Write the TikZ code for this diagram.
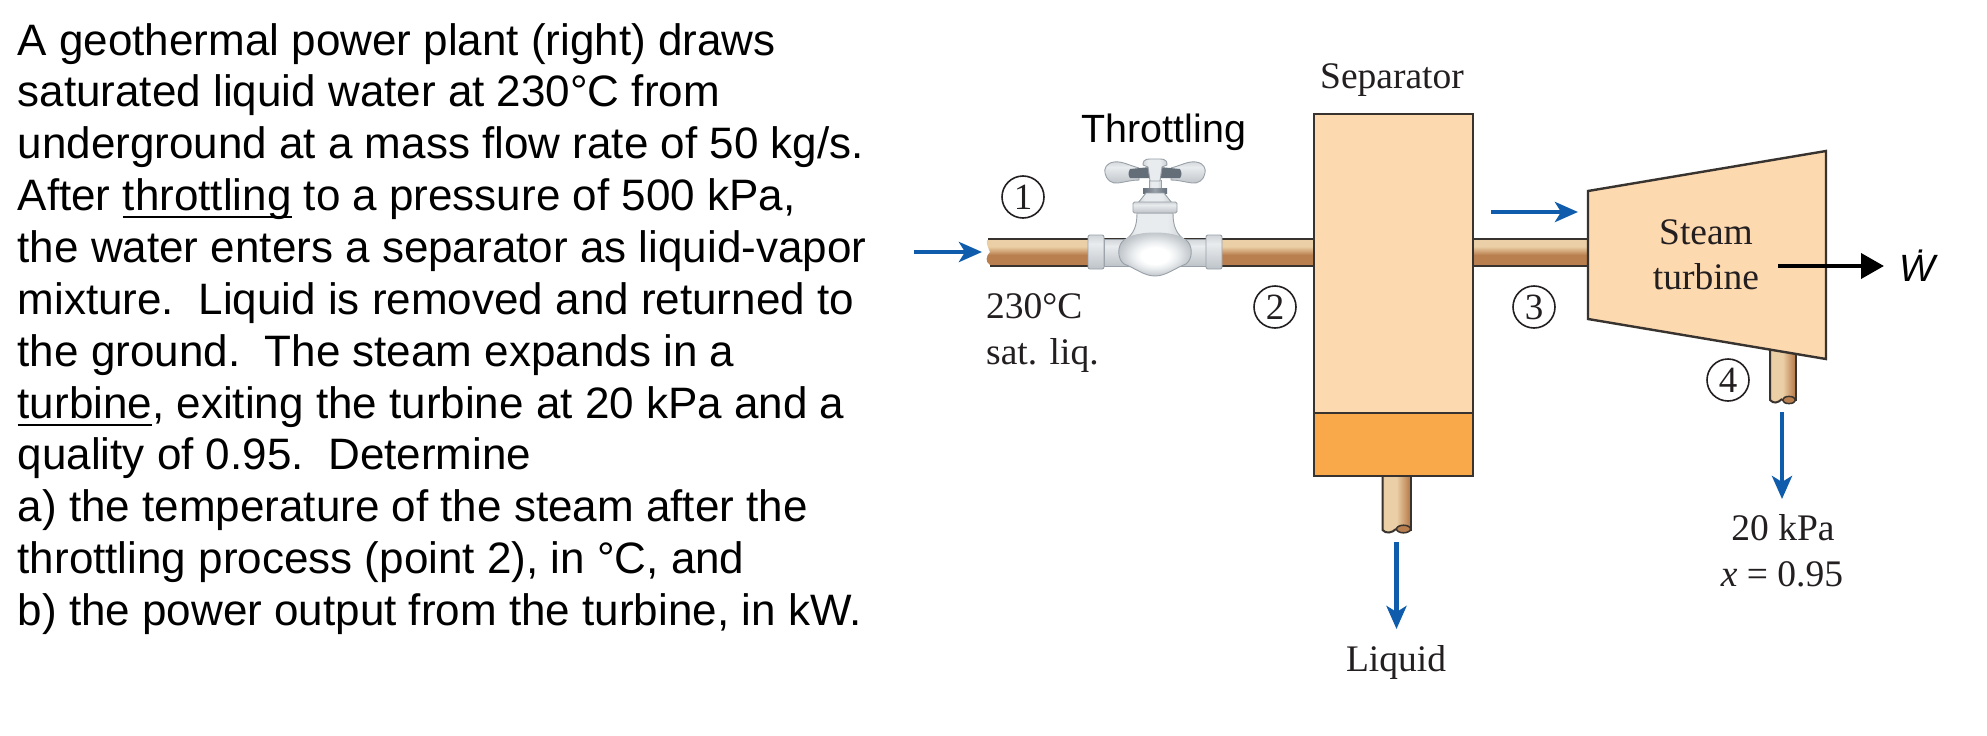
\documentclass[tikz,border=0pt]{standalone}
\usepackage{fontspec}
\setmainfont{Liberation Serif}
\newfontfamily\arialf{Liberation Sans}
\usetikzlibrary{arrows.meta}
\definecolor{peach}{HTML}{FDD9B0}
\definecolor{orng}{HTML}{F9A84A}
\definecolor{edgec}{HTML}{38332E}
\definecolor{flow}{HTML}{0F5CAD}
\definecolor{inkc}{HTML}{231F20}
\definecolor{steelL}{HTML}{E9ECEE}
\definecolor{steelM}{HTML}{C4C9CE}
\definecolor{steelD}{HTML}{98A0A8}
\definecolor{steelX}{HTML}{646E79}
\definecolor{pa}{HTML}{C49C74}
\definecolor{pb}{HTML}{EBCFA6}
\definecolor{pc}{HTML}{B97F4F}
\definecolor{pd}{HTML}{A97244}
\pgfdeclareverticalshading{hpipe}{100bp}{color(0bp)=(pd);color(25bp)=(pc);color(45bp)=(pc);color(62bp)=(pb);color(75bp)=(pb);color(100bp)=(pa)}
\pgfdeclarehorizontalshading{vpipe}{100bp}{color(0bp)=(pa);color(30bp)=(pb);color(50bp)=(pb);color(72bp)=(pc);color(100bp)=(pd)}
\pgfdeclareverticalshading{vsteel}{100bp}{color(0bp)=(steelD);color(30bp)=(steelM);color(62bp)=(steelL);color(82bp)=(steelM);color(100bp)=(steelD)}
\pgfdeclarehorizontalshading{hsteel}{100bp}{color(0bp)=(steelD);color(35bp)=(steelL);color(60bp)=(steelL);color(100bp)=(steelD)}
\pgfdeclareradialshading{valveglow}{\pgfpoint{0bp}{-4bp}}{color(0bp)=(white);color(9bp)=(white);color(15bp)=(steelL);color(23bp)=(steelM);color(34bp)=(steelD)}
\newcommand\ulx[1]{\setbox0=\hbox{#1}\rlap{\vrule width\wd0 height -.125em depth .175em}#1}
\tikzset{
  x=1pt,y=-1pt,
  lbl/.style={inner sep=0pt,text=inkc,font=\fontsize{37.5}{40}\selectfont,anchor=base},
  numc/.style={circle,draw=inkc,line width=1.6pt,minimum size=42pt,inner sep=0pt,text=inkc,font=\fontsize{37}{40}\selectfont},
  vessel/.style={draw=edgec,line width=2.4pt,inner sep=0pt,anchor=north west},
  flowarrow/.style={draw=flow,line width=4.5pt,-{Stealth[length=23pt,width=20pt,inset=6pt]}},
  workarrow/.style={draw=black,line width=4pt,-{Triangle[length=23pt,width=25pt]}},
  pipeedge/.style={draw=edgec,line width=2pt},
  steeledge/.style={draw=steelD,line width=.9pt},
}
\begin{document}
\begin{tikzpicture}
\useasboundingbox[fill=white] (0,0) rectangle (1987,736);
% problem statement
\node[anchor=north west,inner sep=0pt,align=left,text=black,
      font=\arialf\fontsize{44}{51.85}\selectfont] (stmt) at (17.5,23) {%
A geothermal power plant (right) draws\\
saturated liquid water at 230°C from\\
underground at a mass flow rate of 50 kg/s.\\
After \ulx{throttling} to a pressure of 500 kPa,\\
the water enters a separator as liquid-vapor\\
mixture.\ \ Liquid is removed and returned to\\
the ground.\ \ The steam expands in a\\
\ulx{turbine}, exiting the turbine at 20 kPa and a\\
quality of 0.95.\ \ Determine\\
a) the temperature of the steam after the\\
throttling process (point 2), in °C, and\\
b) the power output from the turbine, in kW.};
% pipes
\shade[shading=hpipe] (987,240) .. controls (986,245) and (989,249) .. (990,252)
  .. controls (986,256) and (985,262) .. (990,265) -- (1313,265) -- (1313,240) -- cycle;
\draw[pipeedge] (988,239) -- (1313,239);
\draw[pipeedge] (990,266) -- (1313,266);
\shade[shading=hpipe] (1471,240) rectangle (1588,265);
\draw[pipeedge] (1471,239) -- (1588,239);
\draw[pipeedge] (1471,265.5) -- (1588,265.5);
% vertical pipes
\shade[shading=vpipe] (1382,475) -- (1411,475) -- (1411,531) .. controls (1404,535) and (1400,534) .. (1396,529) .. controls (1392,533) and (1386,534) .. (1382,530) -- cycle;
\draw[pipeedge] (1382.5,475) -- (1382.5,530) .. controls (1386,534) and (1392,533) .. (1396,529);
\draw[pipeedge] (1410.5,475) -- (1410.5,531);
\draw[edgec,line width=1.5pt,fill=pc] (1403.5,529) ellipse (7 and 3.8);
\shade[shading=vpipe] (1769.5,350) -- (1796,350) -- (1796,401) .. controls (1789,405) and (1785,404) .. (1782,399) .. controls (1778,403) and (1773.5,404) .. (1769.5,400) -- cycle;
\draw[pipeedge] (1770,350) -- (1770,400) .. controls (1773.5,404) and (1778,403) .. (1782,399);
\draw[pipeedge] (1795.5,350) -- (1795.5,401);
\draw[edgec,line width=1.5pt,fill=pc] (1789,400) ellipse (6.5 and 3.6);
% separator
\node[vessel,fill=peach,minimum width=158.5pt,minimum height=300pt] (sep) at (1313,113) {};
\node[vessel,fill=orng,minimum width=158.5pt,minimum height=63pt] (sump) at (1313,412) {};
% turbine
\coordinate (t1) at (1588,191);
\coordinate (t2) at (1826,151);
\coordinate (t3) at (1826,359);
\coordinate (t4) at (1588,319);
\draw[draw=edgec,line width=2.4pt,fill=peach,line join=miter] (t1) -- (t2) -- (t3) -- (t4) -- cycle;
% valve: side tubes
\shade[shading=vsteel,steeledge] (1104,239) rectangle (1206,266);
% stem
\shade[shading=hsteel] (1149,180) rectangle (1161,190);
\draw[steeledge] (1149,180) -- (1149,188) (1161,180) -- (1161,188);
% cone under handle
\shade[left color=steelX,right color=steelX,middle color=steelD] (1143,188) rectangle (1167,193);
\shade[shading=hsteel,steeledge] (1146,193) -- (1164,193) -- (1172,203) -- (1138,203) -- cycle;
% neck
\shade[shading=hsteel,steeledge] (1137,213) .. controls (1137,226) and (1134,234) .. (1124,241) -- (1186,241) .. controls (1176,234) and (1173,226) .. (1173,213) -- cycle;
% body
\shade[shading=valveglow] (1124,240) .. controls (1117,245) and (1117,259) .. (1124,264)
  .. controls (1135,268) and (1144,276) .. (1155,276) .. controls (1166,276) and (1175,268) .. (1186,264)
  .. controls (1193,259) and (1193,245) .. (1186,240) .. controls (1176,230) and (1134,230) .. (1124,240) -- cycle;
\draw[steeledge] (1124,240) .. controls (1117,245) and (1117,259) .. (1124,264)
  .. controls (1135,268) and (1144,276) .. (1155,276) .. controls (1166,276) and (1175,268) .. (1186,264)
  .. controls (1193,259) and (1193,245) .. (1186,240);
% collar
\shade[shading=vsteel,steeledge,rounded corners=1.5pt] (1133,202) rectangle (1177,213);
% flanges
\shade[shading=vsteel,steeledge,rounded corners=2pt] (1088,235) rectangle (1104,269);
\shade[shading=vsteel,steeledge,rounded corners=2pt] (1206,235) rectangle (1222,269);
% handle
\shade[shading=vsteel,steeledge] (1139,168) .. controls (1128,165) and (1122,161) .. (1114,162)
  .. controls (1106,163) and (1104,169) .. (1105,173) .. controls (1106,180) and (1112,184) .. (1118,183)
  .. controls (1125,182) and (1132,180) .. (1139,180) -- cycle;
\shade[shading=vsteel,steeledge] (1171,168) .. controls (1182,165) and (1188,161) .. (1196,162)
  .. controls (1204,163) and (1206,169) .. (1205,173) .. controls (1204,180) and (1198,184) .. (1192,183)
  .. controls (1185,182) and (1178,180) .. (1171,180) -- cycle;
\fill[steelX] (1150,167) -- (1130,169) .. controls (1128,173) and (1128,175) .. (1130,178) -- (1150,178) -- cycle;
\fill[steelX] (1160,167) -- (1180,169) .. controls (1182,173) and (1182,175) .. (1180,178) -- (1160,178) -- cycle;
\shade[shading=hsteel,steeledge] (1143,165) .. controls (1143,158) and (1148,159) .. (1155,159) .. controls (1162,159) and (1167,158) .. (1167,165) -- (1162,167) -- (1160,181) -- (1150,181) -- (1148,167) -- cycle;
% nodes of text
\node[lbl] (seplabel) at (1392,88) {Separator};
\node[inner sep=0pt,anchor=base,text=black,font=\arialf\fontsize{39.4}{42}\selectfont] (thr) at (1164,142) {Throttling};
\node[lbl,anchor=base west] (t230) at (986,318) {230°C};
\node[lbl,anchor=base west] (satliq) at (986,364) {sat. liq.};
\node[lbl] (steam) at (1706,244) {Steam};
\node[lbl] (turb) at (1706,289) {turbine};
\node[lbl] (liq) at (1396,671) {Liquid};
\node[lbl] (kpa) at (1783,540) {20 kPa};
\node[lbl] (qual) at (1782,586) {\textit{x} = 0.95};
\node[inner sep=0pt,anchor=base,text=black,font=\arialf\itshape\fontsize{38}{40}\selectfont] (wdot) at (1917,281) {\.{W}};
\node[numc] (n1) at (1023,197) {1};
\node[numc] (n2) at (1275,307) {2};
\node[numc] (n3) at (1534,307) {3};
\node[numc] (n4) at (1728,380) {4};
% arrows
\coordinate (a1s) at (914,252); \coordinate (a1e) at (982,252);
\coordinate (a3s) at (1491,212); \coordinate (a3e) at (1578,212);
\coordinate (a5s) at (1396.5,542); \coordinate (a5e) at (1396.5,629);
\coordinate (a4s) at (1782,412); \coordinate (a4e) at (1782,499);
\coordinate (ws) at (1778,266); \coordinate (we) at (1884,266);
\draw[flowarrow] (a1s) -- (a1e);
\draw[flowarrow] (a3s) -- (a3e);
\draw[flowarrow] (a5s) -- (a5e);
\draw[flowarrow] (a4s) -- (a4e);
\draw[workarrow] (ws) -- (we);
\end{tikzpicture}
\end{document}
